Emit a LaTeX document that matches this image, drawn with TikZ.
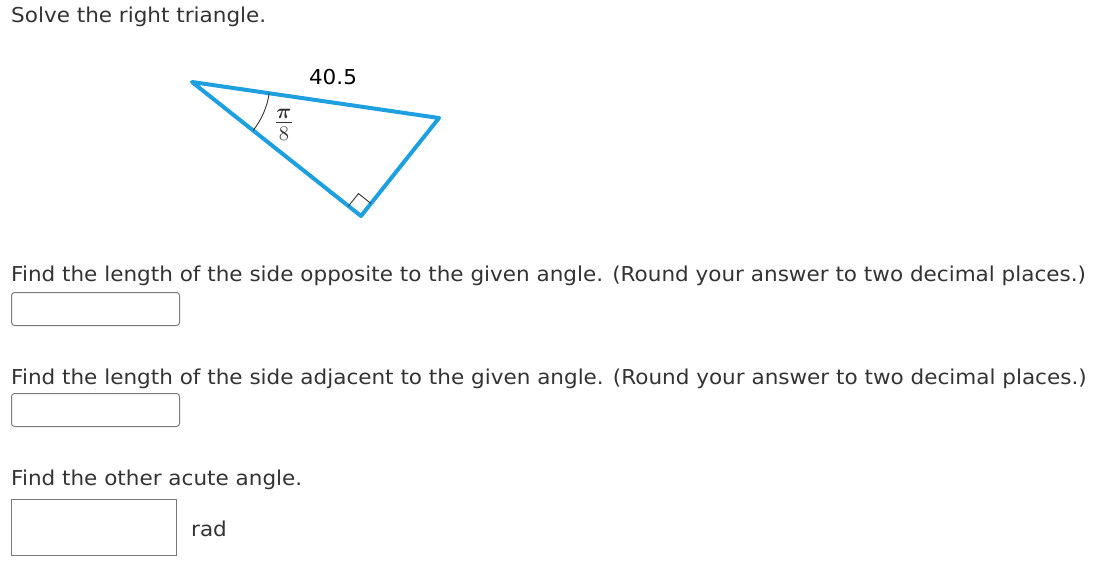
\documentclass[tikz,border=0pt]{standalone}
\usepackage{amsmath}
\usepackage{graphicx}
\usepackage{fontspec}
\setmainfont[FakeStretch=1.05]{DejaVu Sans}
\usetikzlibrary{calc,angles}
\definecolor{triblue}{HTML}{1E9FDF}
\definecolor{txtgray}{HTML}{333333}
\definecolor{boxgray}{HTML}{7A7A7A}

\begin{document}
\begin{tikzpicture}[x=1pt,y=-1pt,
    txt/.style={anchor=base west,inner sep=0pt,text=txtgray,font=\fontsize{20.5}{23}\selectfont},
    ansbox/.style={draw=boxgray,line width=1pt,anchor=north west,inner sep=0pt}]
    \useasboundingbox (0,0) rectangle (1099,574);
    %question text
    \node[txt] (title) at (11,22) {Solve the right triangle.};
    %triangle with the given hypotenuse and angle
    \coordinate (A) at (192,82);
    \coordinate (B) at (439,118);
    \coordinate (C) at (361,216);
    \draw[triblue,line width=4pt,line join=round] (A) -- (B) -- (C) -- cycle;
    \draw[txtgray,line width=0.9pt] ($(C)!16pt!(A)$) -- ($(C)!16pt!(A)+(C)!16pt!(B)-(C)$) -- ($(C)!16pt!(B)$);
    \pic[draw=txtgray,line width=0.9pt,angle radius=78pt] {angle=C--A--B};
    \node[inner sep=0pt,text=txtgray,font=\fontsize{20}{22}\selectfont] (ang) at (284,125) {\scalebox{1.45}{$\frac{\boldsymbol{\pi}}{8}$}};
    \node[inner sep=0pt,text=black,font=\fontsize{20.5}{23}\selectfont] (hyp) at (333,77) {40.5};
    %answer fields
    \node[txt] (q1) at (11,281) {Find the length of the side opposite to the given angle. (Round your answer to two decimal places.)};
    \node[ansbox,rounded corners=3pt,minimum width=168pt,minimum height=33pt] (a1) at (11,292) {};
    \node[txt] (q2) at (11,384) {Find the length of the side adjacent to the given angle. (Round your answer to two decimal places.)};
    \node[ansbox,rounded corners=3pt,minimum width=168pt,minimum height=33pt] (a2) at (11,393) {};
    \node[txt] (q3) at (11,485) {Find the other acute angle.};
    \node[ansbox,minimum width=165pt,minimum height=56pt] (a3) at (11,499) {};
    \node[txt] (unit) at (191,536) {rad};
\end{tikzpicture}
\end{document}
